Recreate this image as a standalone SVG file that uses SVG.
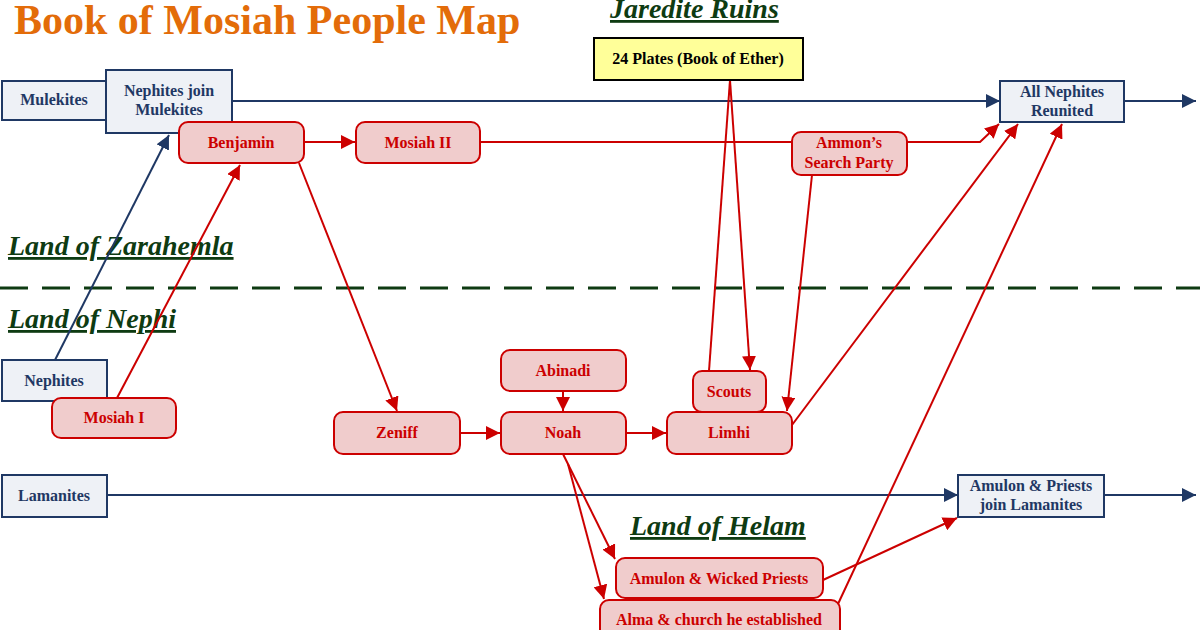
<svg xmlns="http://www.w3.org/2000/svg" width="1200" height="630" viewBox="0 0 1200 630">
<style>
text{font-family:"Liberation Serif",serif;font-weight:bold}
.b rect{fill:#EEF1F6;stroke:#1F3864;stroke-width:2}
.b text{fill:#1F3864;font-size:16px;text-anchor:middle}
.r rect{fill:#F0CCCC;stroke:#CC0000;stroke-width:2}
.r text{fill:#CC0000;font-size:16px;text-anchor:middle}
.land{fill:#0E3B12;font-size:28px;font-style:italic;text-decoration:underline}
.cb{stroke:#1F3864;stroke-width:2;fill:none}
.cr{stroke:#CC0000;stroke-width:2;fill:none}
</style>
<defs>
<marker id="ab" viewBox="0 0 10 10" refX="10" refY="5" markerWidth="7" markerHeight="7" orient="auto"><path d="M0,0L10,5L0,10z" fill="#1F3864"/></marker>
<marker id="ar" viewBox="0 0 10 10" refX="10" refY="5" markerWidth="7" markerHeight="7" orient="auto"><path d="M0,0L10,5L0,10z" fill="#CC0000"/></marker>
</defs>
<rect width="1200" height="630" fill="#fff"/>
<text x="14" y="34" font-size="42" fill="#E36C09">Book of Mosiah People Map</text>
<text class="land" x="610" y="18">Jaredite Ruins</text>
<text class="land" x="8" y="255">Land of Zarahemla</text>
<text class="land" x="8" y="328">Land of Nephi</text>
<text class="land" x="630" y="535">Land of Helam</text>
<line x1="0" y1="288" x2="1200" y2="288" stroke="#0E3B12" stroke-width="3" stroke-dasharray="28,14"/>
<g id="connectors">
<line class="cb" x1="232" y1="101" x2="1000" y2="101" marker-end="url(#ab)"/>
<line class="cb" x1="1124" y1="101" x2="1196" y2="101" marker-end="url(#ab)"/>
<line class="cb" x1="107" y1="495" x2="958" y2="495" marker-end="url(#ab)"/>
<line class="cb" x1="1104" y1="495" x2="1196" y2="495" marker-end="url(#ab)"/>
<line class="cb" x1="55" y1="360" x2="169" y2="135" marker-end="url(#ab)"/>
<line class="cr" x1="117" y1="398" x2="240" y2="165" marker-end="url(#ar)"/>
<line class="cr" x1="304" y1="142" x2="355" y2="142" marker-end="url(#ar)"/>
<polyline class="cr" points="480,142 792,142"/>
<polyline class="cr" points="907,142 980,142 999,124" marker-end="url(#ar)"/>
<line class="cr" x1="299" y1="163" x2="397" y2="411" marker-end="url(#ar)"/>
<line class="cr" x1="460" y1="433" x2="500" y2="433" marker-end="url(#ar)"/>
<line class="cr" x1="626" y1="433" x2="666" y2="433" marker-end="url(#ar)"/>
<line class="cr" x1="563" y1="391" x2="563" y2="411" marker-end="url(#ar)"/>
<line class="cr" x1="730" y1="80" x2="709" y2="371"/>
<line class="cr" x1="730" y1="80" x2="750" y2="370" marker-end="url(#ar)"/>
<line class="cr" x1="812" y1="175" x2="787" y2="411" marker-end="url(#ar)"/>
<line class="cr" x1="792" y1="425" x2="1018" y2="124" marker-end="url(#ar)"/>
<line class="cr" x1="563" y1="454" x2="615" y2="559" marker-end="url(#ar)"/>
<line class="cr" x1="568" y1="464" x2="604" y2="599" marker-end="url(#ar)"/>
<line class="cr" x1="823" y1="580" x2="957" y2="518" marker-end="url(#ar)"/>
<line class="cr" x1="838" y1="604" x2="1062" y2="124" marker-end="url(#ar)"/>
</g>
<g id="plates"><rect x="594" y="38" width="209" height="42" fill="#FFFF99" stroke="#000" stroke-width="2"/><text x="698" y="64" font-size="16" text-anchor="middle" fill="#000">24 Plates (Book of Ether)</text></g>
<g id="mulekites" class="b"><rect x="2" y="81" width="105" height="39"/><text x="54" y="105">Mulekites</text></g>
<g id="nephitesjoin" class="b"><rect x="106" y="70" width="126" height="63"/><text x="169" y="96">Nephites join</text><text x="169" y="115">Mulekites</text></g>
<g id="allnephites" class="b"><rect x="1000" y="81" width="124" height="41"/><text x="1062" y="97">All Nephites</text><text x="1062" y="116">Reunited</text></g>
<g id="nephites" class="b"><rect x="2" y="360" width="105" height="41"/><text x="54" y="386">Nephites</text></g>
<g id="lamanites" class="b"><rect x="2" y="475" width="105" height="42"/><text x="54" y="501">Lamanites</text></g>
<g id="amulonjoin" class="b"><rect x="958" y="475" width="146" height="42"/><text x="1031" y="491">Amulon &amp; Priests</text><text x="1031" y="510">join Lamanites</text></g>
<g id="benjamin" class="r"><rect x="179" y="122" width="125" height="41" rx="9"/><text x="241" y="148">Benjamin</text></g>
<g id="mosiah2" class="r"><rect x="356" y="122" width="124" height="41" rx="9"/><text x="418" y="148">Mosiah II</text></g>
<g id="ammon" class="r"><rect x="792" y="132" width="115" height="43" rx="9"/><text x="849" y="148">Ammon’s</text><text x="849" y="168">Search Party</text></g>
<g id="mosiah1" class="r"><rect x="52" y="398" width="124" height="40" rx="9"/><text x="114" y="423">Mosiah I</text></g>
<g id="zeniff" class="r"><rect x="334" y="412" width="126" height="42" rx="9"/><text x="397" y="438">Zeniff</text></g>
<g id="abinadi" class="r"><rect x="501" y="350" width="125" height="41" rx="9"/><text x="563" y="376">Abinadi</text></g>
<g id="noah" class="r"><rect x="501" y="412" width="125" height="42" rx="9"/><text x="563" y="438">Noah</text></g>
<g id="scouts" class="r"><rect x="693" y="371" width="73" height="41" rx="9"/><text x="729" y="397">Scouts</text></g>
<g id="limhi" class="r"><rect x="667" y="412" width="125" height="42" rx="9"/><text x="729" y="438">Limhi</text></g>
<g id="amulon" class="r"><rect x="616" y="558" width="207" height="40" rx="9"/><text x="719" y="584">Amulon &amp; Wicked Priests</text></g>
<g id="alma" class="r"><rect x="600" y="600" width="240" height="40" rx="9"/><text x="719" y="625">Alma &amp; church he established</text></g>
</svg>
